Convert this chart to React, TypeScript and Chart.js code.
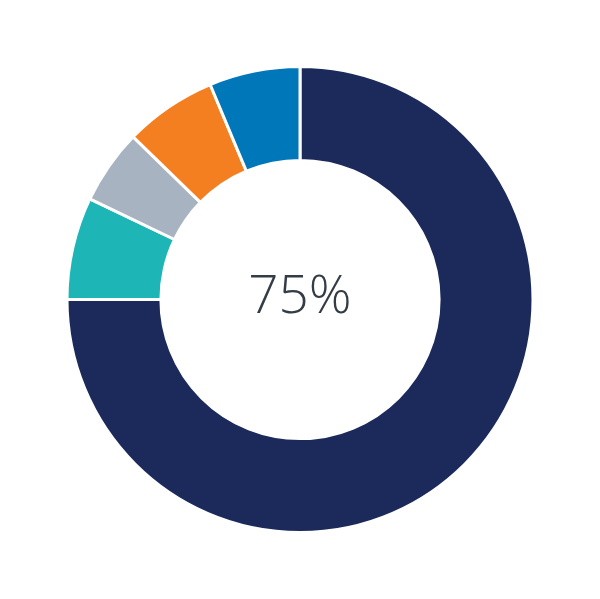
import React, { useEffect, useRef } from "react";
import { Chart, registerables } from "chart.js";

Chart.register(...registerables);

const categories = ["Primary", "Teal", "Gray", "Orange", "Blue"];
const values = [75, 7.1, 5.2, 6.4, 6.3];
const colors = ["#1b2a5a", "#1db5b6", "#a8b3c2", "#f47f20", "#0077b8"];
const centerLabel = "75%";
const FONT = '350 53px "Open Sans"';

const centerTextPlugin = {
  id: "centerText",
  afterDraw(chart: any) {
    const { ctx, chartArea } = chart;
    const cx = (chartArea.left + chartArea.right) / 2;
    const cy = (chartArea.top + chartArea.bottom) / 2;
    ctx.save();
    ctx.font = FONT;
    ctx.fillStyle = "#343d46";
    ctx.textAlign = "center";
    ctx.textBaseline = "alphabetic";
    ctx.fillText(centerLabel, cx, cy + 13);
    ctx.restore();
  },
};

export default function App() {
  const ref = useRef<HTMLCanvasElement>(null);
  useEffect(() => {
    document.body.style.margin = "0";
    let chart: Chart | null = null;
    let cancelled = false;
    const make = () => {
      if (cancelled || !ref.current) return;
      chart = new Chart(ref.current, {
        type: "doughnut",
        data: {
          labels: categories,
          datasets: [
            {
              data: values,
              backgroundColor: colors,
              borderColor: "#ffffff",
              borderWidth: 3,
              hoverOffset: 0,
            },
          ],
        },
        options: {
          responsive: false,
          animation: false,
          radius: 233,
          cutout: "59.7%",
          plugins: {
            legend: { display: false },
            tooltip: { enabled: false },
          },
        },
        plugins: [centerTextPlugin],
      });
    };
    (document as any).fonts.load(FONT).then(make, make);
    return () => {
      cancelled = true;
      if (chart) chart.destroy();
    };
  }, []);
  return (
    <div style={{ width: 600, height: 599 }}>
      <canvas ref={ref} width={600} height={599} style={{ width: 600, height: 599 }} />
    </div>
  );
}
